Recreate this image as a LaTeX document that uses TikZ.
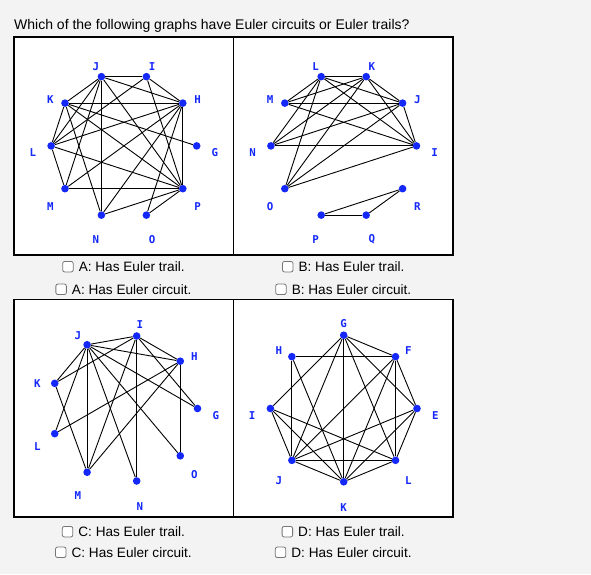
\documentclass[tikz,border=0pt]{standalone}
\usepackage{fontspec}
\setmainfont{Liberation Sans}
\newfontfamily\labfont{DejaVu Sans Mono}
\usetikzlibrary{positioning}

\definecolor{pagegray}{RGB}{243,243,243}
\definecolor{vblue}{RGB}{20,40,250}
\definecolor{boxgray}{RGB}{118,118,118}

\tikzset{
  panel/.style={draw=black, line width=1.2pt, fill=white},
  vert/.style={circle, fill=vblue, inner sep=0pt, minimum size=7.6pt},
  vlab/.style={text=vblue, font=\labfont\bfseries\fontsize{10.8}{11}\selectfont, inner sep=0pt},
  link/.style={line width=0.9pt},
  ans/.style={font=\fontsize{13.6}{16}\selectfont, inner sep=0pt},
  tick/.style={draw=boxgray, fill=white, rounded corners=2pt, line width=0.8pt,
    minimum size=10.5pt, inner sep=0pt},
}

\begin{document}
\begin{tikzpicture}[x=1pt,y=1pt]
  \fill[pagegray] (0,0) rectangle (591,574);
  \useasboundingbox (0,0) rectangle (591,574);
  % question
  \node[anchor=base west, font=\fontsize{14}{16}\selectfont, inner sep=0pt] (title) at (14,544)
    {Which of the following graphs have Euler circuits or Euler trails?};
  % the four white panels
  \draw[panel] (14,537) rectangle (233.5,319);
  \draw[panel] (233.5,537) rectangle (453,319);
  \draw[panel] (14,274.5) rectangle (233.5,57);
  \draw[panel] (233.5,274.5) rectangle (453,57);

  % graph A: ten vertices on a decagon
  \begin{scope}[shift={(123.9,428.1)}]
    \foreach \n/\a in {J/108, I/72, H/36, G/0, P/-36, O/-72, N/-108, M/-144, L/180, K/144} {
      \node[vert] (a\n) at (\a:72.8) {};
      \node[vlab] (a\n l) at ([yshift=-7pt]\a:91) {\n};
    }
    \foreach \u/\v in {J/I, J/K, J/L, J/M, J/N, J/H, J/P, I/H, I/L, I/P, H/K, H/L, H/M,
      H/N, H/O, H/P, K/G, K/L, K/N, K/P, L/M, L/P, M/P, N/P, O/P}
      \draw[link] (a\u) -- (a\v);
  \end{scope}

  % graph B: same layout, triangle P-Q-R apart
  \begin{scope}[shift={(343.7,428.1)}]
    \foreach \n/\a in {L/108, K/72, J/36, I/0, R/-36, Q/-72, P/-108, O/-144, N/180, M/144} {
      \node[vert] (b\n) at (\a:72.8) {};
      \node[vlab] (b\n l) at ([yshift=-7pt]\a:91) {\n};
    }
    \foreach \u/\v in {L/K, M/J, N/I, P/Q, P/R, Q/R, L/M, L/N, L/O, L/J, L/I, K/M, K/N,
      K/O, K/J, K/I, M/I, N/J, O/J, O/I, J/I}
      \draw[link] (b\u) -- (b\v);
  \end{scope}

  % graph C: nine vertices
  \begin{scope}[shift={(123.9,165.5)}]
    \foreach \n/\a in {G/0, H/40, I/80, J/120, K/160, L/200, M/240, N/280, O/320} {
      \node[vert] (c\n) at (\a:73.6) {};
      \node[vlab] (c\n l) at ([yshift=-7pt]\a:92) {\n};
    }
    \foreach \u/\v in {J/I, I/H, J/H, J/K, J/L, J/M, J/N, J/O, J/G, I/K, I/M, I/N, I/G,
      H/L, H/M, H/O, K/M}
      \draw[link] (c\u) -- (c\v);
  \end{scope}

  % graph D: eight vertices on an octagon
  \begin{scope}[shift={(343.7,165.5)}]
    \foreach \n/\a in {G/90, F/45, E/0, L/-45, K/-90, J/-135, I/180, H/135} {
      \node[vert] (d\n) at (\a:73.3) {};
      \node[vlab] (d\n l) at ([yshift=-7pt]\a:91.6) {\n};
    }
    \foreach \u/\v in {G/F, G/E, G/L, G/K, G/J, G/I, H/F, H/J, H/K, F/E, F/L, F/J, F/K,
      E/J, E/K, E/L, I/J, I/K, I/L, J/L, J/K, K/L}
      \draw[link] (d\u) -- (d\v);
  \end{scope}

  % answer boxes under each panel
  \foreach \g/\cx/\ya/\yb in {A/131.7/307.3/284.7, B/351.5/307.3/284.7,
    C/131.7/42.3/21.7, D/351.5/42.3/21.7} {
    \node[ans] (tr\g) at (\cx,\ya) {\g: Has Euler trail.};
    \node[tick, left=5pt of tr\g] (trb\g) {};
    \node[ans] (ci\g) at (\cx,\yb) {\g: Has Euler circuit.};
    \node[tick, left=5pt of ci\g] (cib\g) {};
  }
\end{tikzpicture}
\end{document}
